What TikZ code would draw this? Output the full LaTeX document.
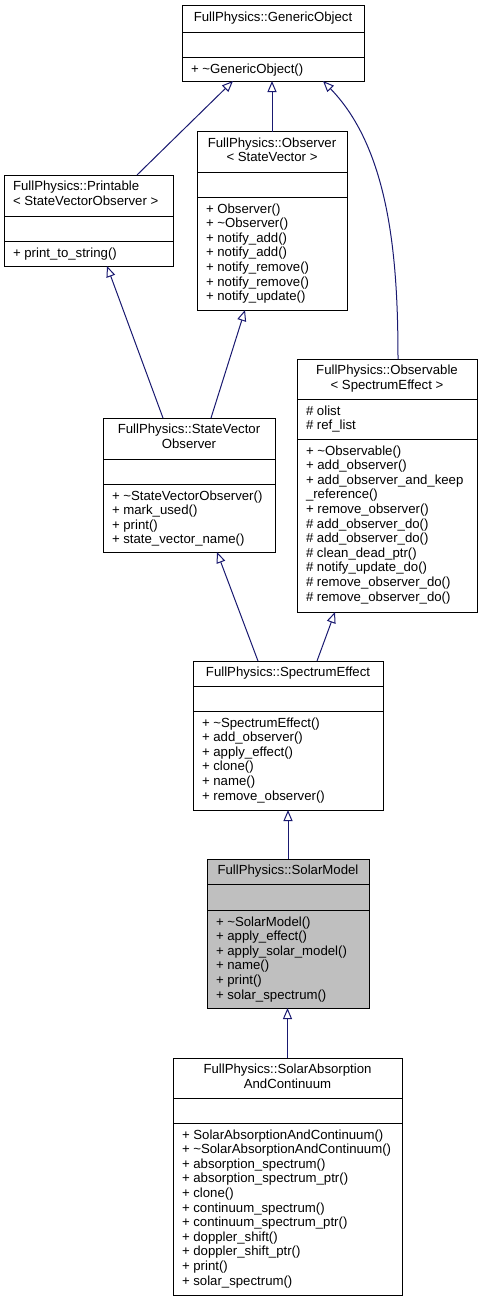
\documentclass[tikz,border=0pt]{standalone}
\usepackage{fontspec}
\setmainfont{Liberation Sans}
\usetikzlibrary{arrows.meta}
\definecolor{edgeblue}{HTML}{191970}
\definecolor{hlgray}{HTML}{BFBFBF}
\newcommand{\tld}{\textasciitilde{}}
\tikzset{
  cls/.style={draw=black, line width=1pt, fill=white, inner sep=0pt, outer sep=0pt},
  sepline/.style={draw=black, line width=1pt},
  mem/.style={inner sep=0pt, outer sep=0pt, anchor=north west, align=left, font=\fontsize{13.2}{14.6}\selectfont},
  ttl/.style={inner sep=0pt, outer sep=0pt, anchor=north, align=center, font=\fontsize{13.2}{14.6}\selectfont},
  inh/.style={draw=edgeblue, line width=1pt, -{Triangle[open, length=11pt, width=9pt, line width=1pt]}},
}
\begin{document}
\begin{tikzpicture}[x=1pt,y=-1pt]
\useasboundingbox (0,0) rectangle (479,1301);

% GenericObject: 182,5.5,364,32,57,81
\node[cls, minimum width=182pt, minimum height=75.5pt] (go) at (273,43.25) {};
\draw[sepline] (go.west |- 0,32) -- (go.east |- 0,32);
\draw[sepline] (go.west |- 0,57) -- (go.east |- 0,57);
\node[ttl] (got) at (273,11.5) {FullPhysics::GenericObject};
\node[mem] (gom) at (191,63.5) {+ \tld GenericObject()};

% Observer: 197,131.5,347,172,197,310
\node[cls, minimum width=150pt, minimum height=178.5pt] (obs) at (272,220.75) {};
\draw[sepline] (obs.west |- 0,172) -- (obs.east |- 0,172);
\draw[sepline] (obs.west |- 0,197) -- (obs.east |- 0,197);
\node[ttl] (obst) at (272,137.5) {FullPhysics::Observer\\< StateVector >};
\node[mem] (obsm) at (206,203.5) {+ Observer()\\+ \tld Observer()\\+ notify\_add()\\+ notify\_add()\\+ notify\_remove()\\+ notify\_remove()\\+ notify\_update()};

% Printable: 4,175,173,216,241,266
\node[cls, minimum width=169pt, minimum height=91pt] (pr) at (88.5,220.5) {};
\draw[sepline] (pr.west |- 0,216) -- (pr.east |- 0,216);
\draw[sepline] (pr.west |- 0,241) -- (pr.east |- 0,241);
\node[mem] (prt) at (13,181) {FullPhysics::Printable\\< StateVectorObserver >};
\node[mem] (prm) at (13,247.5) {+ print\_to\_string()};

% StateVectorObserver: 103,418,275,459,484,552
\node[cls, minimum width=172pt, minimum height=134pt] (svo) at (189,485) {};
\draw[sepline] (svo.west |- 0,459) -- (svo.east |- 0,459);
\draw[sepline] (svo.west |- 0,484) -- (svo.east |- 0,484);
\node[ttl] (svot) at (189,424) {FullPhysics::StateVector\\Observer};
\node[mem] (svom) at (112,490.5) {+ \tld StateVectorObserver()\\+ mark\_used()\\+ print()\\+ state\_vector\_name()};

% Observable: 297,359,477,399,439,612
\node[cls, minimum width=180pt, minimum height=253pt] (obl) at (387,485.5) {};
\draw[sepline] (obl.west |- 0,399) -- (obl.east |- 0,399);
\draw[sepline] (obl.west |- 0,439) -- (obl.east |- 0,439);
\node[ttl] (oblt) at (387,365) {FullPhysics::Observable\\< SpectrumEffect >};
\node[mem] (obla) at (306,405.5) {\# olist\\\# ref\_list};
\node[mem] (oblm) at (306,445.5) {+ \tld Observable()\\+ add\_observer()\\+ add\_observer\_and\_keep\\\_reference()\\+ remove\_observer()\\\# add\_observer\_do()\\\# add\_observer\_do()\\\# clean\_dead\_ptr()\\\# notify\_update\_do()\\\# remove\_observer\_do()\\\# remove\_observer\_do()};

% SpectrumEffect: 193,661,383,686,711,810
\node[cls, minimum width=190pt, minimum height=149pt] (se) at (288,735.5) {};
\draw[sepline] (se.west |- 0,686) -- (se.east |- 0,686);
\draw[sepline] (se.west |- 0,711) -- (se.east |- 0,711);
\node[ttl] (set) at (288,667) {FullPhysics::SpectrumEffect};
\node[mem] (sem) at (202,717.5) {+ \tld SpectrumEffect()\\+ add\_observer()\\+ apply\_effect()\\+ clone()\\+ name()\\+ remove\_observer()};

% SolarModel: 207,859,369,884,910,1008
\node[cls, fill=hlgray, minimum width=162pt, minimum height=149pt] (sm) at (288,933.5) {};
\draw[sepline] (sm.west |- 0,884) -- (sm.east |- 0,884);
\draw[sepline] (sm.west |- 0,910) -- (sm.east |- 0,910);
\node[ttl] (smt) at (288,865) {FullPhysics::SolarModel};
\node[mem] (smm) at (216,916.5) {+ \tld SolarModel()\\+ apply\_effect()\\+ apply\_solar\_model()\\+ name()\\+ print()\\+ solar\_spectrum()};

% SolarAbsorptionAndContinuum: 173,1058,402,1098,1123,1295
\node[cls, minimum width=229pt, minimum height=237pt] (sac) at (287.5,1176.5) {};
\draw[sepline] (sac.west |- 0,1098) -- (sac.east |- 0,1098);
\draw[sepline] (sac.west |- 0,1123) -- (sac.east |- 0,1123);
\node[ttl] (sact) at (287.5,1064) {FullPhysics::SolarAbsorption\\AndContinuum};
\node[mem] (sacm) at (182,1129.5) {+ SolarAbsorptionAndContinuum()\\+ \tld SolarAbsorptionAndContinuum()\\+ absorption\_spectrum()\\+ absorption\_spectrum\_ptr()\\+ clone()\\+ continuum\_spectrum()\\+ continuum\_spectrum\_ptr()\\+ doppler\_shift()\\+ doppler\_shift\_ptr()\\+ print()\\+ solar\_spectrum()};

% inheritance edges
\draw[inh] ([xshift=48.5pt]pr.north) -- ([xshift=-40pt]go.south);
\draw[inh] (obs.north) -- (obs.north |- go.south);
\draw[inh] ([xshift=11pt]obl.north) .. controls ([xshift=11pt,yshift=99pt]obl.north) and ([xshift=117pt,yshift=-69pt]go.south) .. ([xshift=50pt]go.south);
\draw[inh] ([xshift=-26pt]svo.north) -- ([xshift=18.5pt]pr.south);
\draw[inh] ([xshift=22pt]svo.north) -- ([xshift=-27pt]obs.south);
\draw[inh] ([xshift=-30pt]se.north) -- ([xshift=28pt]svo.south);
\draw[inh] ([xshift=29pt]se.north) -- ([xshift=-52pt]obl.south);
\draw[inh] (sm.north) -- (se.south);
\draw[inh] (sac.north) -- (sac.north |- sm.south);
\end{tikzpicture}
\end{document}
